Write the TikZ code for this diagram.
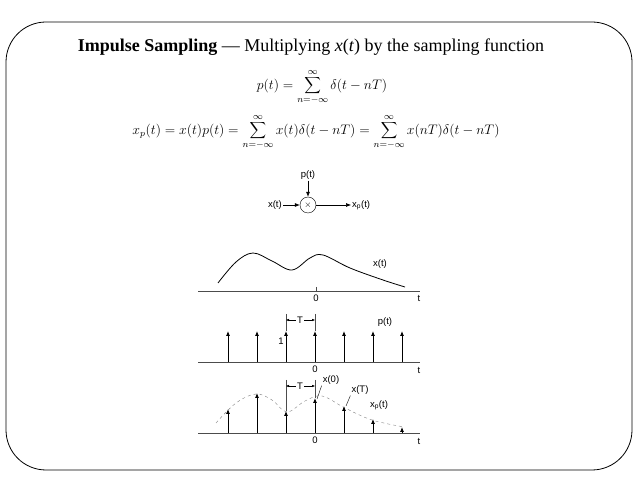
\documentclass[tikz,border=0pt]{standalone}
\usepackage{fontspec}
\newfontfamily\lab{Liberation Sans}
\newfontfamily\ttl{Liberation Serif}
\usetikzlibrary{arrows.meta}
\begin{document}
\begin{tikzpicture}[x=1pt,y=-1pt,
  lbl/.style={font=\lab\fontsize{9.5}{10}\selectfont,inner sep=1pt},
  ar/.style={-{Latex[length=5pt,width=4pt]},thick},
  ax/.style={line width=0.4pt,gray!60!black},
  eq/.style={font=\fontsize{12}{14}\selectfont,scale=1.15,transform shape}]
\useasboundingbox (0,0) rectangle (638,478);
\draw[line width=0.8pt, rounded corners=40pt] (6,22) rectangle (632,470);
\node (title) at (311,47) {\ttl\fontsize{18}{20}\selectfont\textbf{Impulse Sampling} \textemdash{} Multiplying \textit{x}(\textit{t}) by the sampling function};
\node[eq] (f1) at (322,87) {$p(t)=\displaystyle\sum_{n=-\infty}^{\infty}\delta(t-nT)$};
\node[eq] (f2) at (316,132) {$x_p(t)=x(t)p(t)=\displaystyle\sum_{n=-\infty}^{\infty}x(t)\delta(t-nT)=\sum_{n=-\infty}^{\infty}x(nT)\delta(t-nT)$};
% block diagram
\node[draw,circle,minimum size=16pt,inner sep=0pt,font=\lab\fontsize{9}{9}\selectfont] (m) at (308,205) {$\times$};
\node[lbl,anchor=east] (xin) at (283,205) {x(t)};
\node[lbl,anchor=west] (xo) at (351,205) {x\textsubscript{p}(t)};
\node[lbl] (pin) at (308,175) {p(t)};
\draw[ar,semithick] (xin) -- (m);
\draw[ar,semithick] (m) -- (xo);
\draw[ar,semithick] (pin) -- (m);
% plot 1
\coordinate (a1l) at (198,291); \coordinate (a1r) at (420,291);
\draw[ax] (a1l) -- (a1r);
\draw[ax] (316,287) -- (316,291);
\node[lbl] (z1) at (316,298) {0};
\node[lbl] (t1) at (419,298) {t};
\draw[thick] plot[smooth,tension=0.6] coordinates {(218,283) (236,262) (253,253) (272,261) (292,270) (310,258) (323,255) (350,268) (383,280) (405,287)};
\node[lbl] (x1) at (380,264) {x(t)};
% plot 2
\coordinate (a2l) at (198,362); \coordinate (a2r) at (420,362);
\draw[ax] (a2l) -- (a2r);
\foreach \x in {228,257,286,315,344,373,402}{\draw[ar] (\x,362) -- (\x,331);}
\node[lbl] (one) at (281,341) {1};
\draw[ax] (286,314) -- (286,331); \draw[ax] (315,314) -- (315,331);
\node[lbl] (T2) at (300,320) {T};
\draw[-{Latex[length=3pt,width=2.5pt]},thin] (T2) -- (286,320);
\draw[-{Latex[length=3pt,width=2.5pt]},thin] (T2) -- (315,320);
\node[lbl] (p2) at (385,322) {p(t)};
\node[lbl] (z2) at (315,369) {0};
\node[lbl] (t2) at (419,370) {t};
% plot 3
\coordinate (a3l) at (198,433); \coordinate (a3r) at (420,433);
\draw[ax] (a3l) -- (a3r);
\draw[dashed,gray,thin] plot[smooth,tension=0.6] coordinates {(216,423) (236,403) (256,394) (272,400) (287,412) (305,401) (322,396) (345,408) (372,420) (404,427)};
\foreach \x/\y in {228/409,257/393,286/411,315/398,344/406,373/419,402/427}{\draw[ar] (\x,433) -- (\x,\y);}
\draw[ax] (286,380) -- (286,411); \draw[ax] (315,380) -- (315,398);
\node[lbl] (T3) at (300,386) {T};
\draw[-{Latex[length=3pt,width=2.5pt]},thin] (T3) -- (286,386);
\draw[-{Latex[length=3pt,width=2.5pt]},thin] (T3) -- (315,386);
\node[lbl] (x0) at (331,380) {x(0)};
\node[lbl] (xT) at (360,390) {x(T)};
\node[lbl] (xp3) at (379,405) {x\textsubscript{p}(t)};
\coordinate (x0e) at (317,399); \coordinate (xTe) at (346,406);
\draw[thin] (x0.south west) -- (x0e);
\draw[thin] (xT.south west) -- (xTe);
\node[lbl] (z3) at (315,440) {0};
\node[lbl] (t3) at (419,441) {t};
\end{tikzpicture}
\end{document}
